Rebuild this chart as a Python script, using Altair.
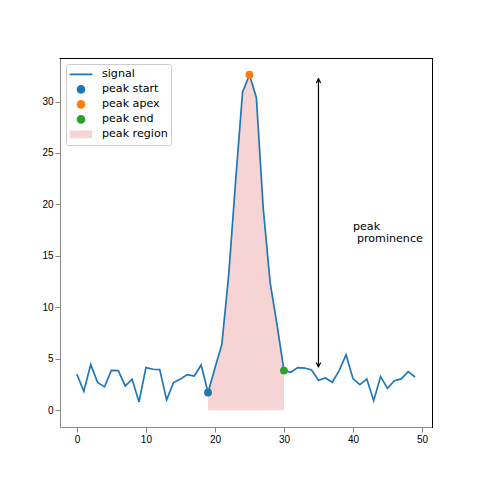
import altair as alt
import pandas as pd

# ---- data ----
x_vals = list(range(50))
signal = [3.50, 1.84, 4.43, 2.69, 2.27, 3.88, 3.85, 2.36, 3.01, 0.81,
          4.14, 3.98, 3.95, 1.00, 2.69, 3.04, 3.46, 3.33, 4.40, 1.72,
          4.10, 6.40, 13.2, 22.3, 30.9, 32.6, 30.4, 19.6, 12.4, 8.3,
          3.85, 3.69, 4.14, 4.10, 3.91, 2.91, 3.14, 2.72, 3.85, 5.40,
          3.07, 2.49, 3.04, 0.93, 3.27, 2.13, 2.87, 3.04, 3.75, 3.23]
peak_idx = [19, 25, 30]
peak_names = ["peak start", "peak apex", "peak end"]
peak_colors = ["#1f77b4", "#ff7f0e", "#2ca02c"]
legend_labels = ["signal", "peak start", "peak apex", "peak end", "peak region"]
legend_colors = ["#1f77b4", "#1f77b4", "#ff7f0e", "#2ca02c", "#f7d4d4"]
x_ticks = [0, 10, 20, 30, 40, 50]
y_ticks = [0, 5, 10, 15, 20, 25, 30]
arrow_x = 35
text_x = 40
text_y = 17.5
text_line1 = "peak"
text_line2 = "prominence"

FONT = "DejaVu Sans"
FS = 11.1
W, H = 372, 369

df = pd.DataFrame({"x": x_vals, "y": signal})
region = df[(df.x >= peak_idx[0]) & (df.x <= peak_idx[2])].copy()
region["y0"] = 0.0
peaks = pd.DataFrame({
    "x": peak_idx,
    "y": [signal[i] for i in peak_idx],
    "label": peak_names,
})
base = signal[peak_idx[2]]
apex = signal[peak_idx[1]]
shrink = 0.38
arrow = pd.DataFrame({"x": [arrow_x], "y": [base + shrink], "y2": [apex - shrink]})

xs = alt.Scale(domain=[-2.45, 51.45], nice=False, zero=False)
ys = alt.Scale(domain=[-1.63, 34.23], nice=False, zero=False)
xax = alt.Axis(values=x_ticks, title=None, grid=False, format="d")
yax = alt.Axis(values=y_ticks, title=None, grid=False, format="d")

X = alt.X("x:Q", scale=xs, axis=xax)
Y = alt.Y("y:Q", scale=ys, axis=yax)

area = alt.Chart(region).mark_area(color="#f7d4d4").encode(
    x=X, y=Y, y2="y0:Q")

line = alt.Chart(df).mark_line(color="#1f77b4", strokeWidth=1.7).encode(x=X, y=Y)

pts = alt.Chart(peaks).mark_point(filled=True, size=62, opacity=1).encode(
    x=X, y=Y,
    fill=alt.Fill("label:N", scale=alt.Scale(domain=peak_names, range=peak_colors), legend=None),
)

rule = alt.Chart(arrow).mark_rule(color="black", strokeWidth=1.2).encode(
    x=X, y=Y, y2="y2:Q")

up_head = alt.Chart(arrow).mark_point(
    shape="M-0.45,0.85L0,0L0.45,0.85", filled=False, stroke="black",
    strokeWidth=1.2, size=100, opacity=1).encode(x=X, y=alt.Y("y2:Q", scale=ys, axis=yax))
down_head = alt.Chart(arrow).mark_point(
    shape="M-0.45,-0.85L0,0L0.45,-0.85", filled=False, stroke="black",
    strokeWidth=1.2, size=100, opacity=1).encode(x=X, y=Y)

tdf = pd.DataFrame({"x": [text_x], "y": [text_y]})
txt1 = alt.Chart(tdf).mark_text(
    text=text_line1, align="left", baseline="alphabetic", font=FONT,
    fontSize=FS, color="black").encode(x=X, y=Y)
txt2 = alt.Chart(tdf).mark_text(
    text=text_line2, align="left", baseline="alphabetic", font=FONT,
    fontSize=FS, color="black", dx=4, dy=12).encode(x=X, y=Y)

# top and right spines (frame), pixel-aligned
frame_top = alt.Chart(tdf).mark_rule(color="black", strokeWidth=1).encode(
    x=alt.value(-0.5), x2=alt.value(W + 1), y=alt.value(0.5))
frame_right = alt.Chart(tdf).mark_rule(color="black", strokeWidth=1).encode(
    x=alt.value(W + 0.5), y=alt.value(0), y2=alt.value(H + 1))

leg_paths = [
    "M-0.95,-0.07H0.95V0.07H-0.95Z",
    "M-0.36,0A0.36,0.36,0,1,1,0.36,0A0.36,0.36,0,1,1,-0.36,0Z",
    "M-0.36,0A0.36,0.36,0,1,1,0.36,0A0.36,0.36,0,1,1,-0.36,0Z",
    "M-0.36,0A0.36,0.36,0,1,1,0.36,0A0.36,0.36,0,1,1,-0.36,0Z",
    "M-0.93,-0.32H0.93V0.32H-0.93Z",
]
leg_df = pd.DataFrame({"x": [0] * 5, "y": [signal[0]] * 5, "label": legend_labels})
legend_props = dict(
    title=None, orient="top-left", offset=6, symbolSize=576,
    symbolStrokeWidth=0, symbolOpacity=1, labelFont=FONT, labelFontSize=FS,
    labelColor="black", labelOffset=9, clipHeight=14.8, rowPadding=0,
    padding=3, fillColor="white", strokeColor="#cccccc", cornerRadius=2,
)
leg = alt.Chart(leg_df).mark_point(filled=True, opacity=0, size=1).encode(
    x=X, y=Y,
    color=alt.Color("label:N", scale=alt.Scale(domain=legend_labels, range=legend_colors),
                    legend=alt.Legend(**legend_props)),
    shape=alt.Shape("label:N", scale=alt.Scale(domain=legend_labels, range=leg_paths),
                    legend=alt.Legend(**legend_props)),
)

chart = alt.layer(area, line, pts, rule, up_head, down_head, txt1, txt2,
                  frame_top, frame_right, leg).properties(
    width=W, height=H,
    padding={"left": 60, "top": 58, "right": 48, "bottom": 53},
    autosize=alt.AutoSizeParams(type="none"),
).configure_view(
    stroke=None
).configure_axis(
    domainColor="black", domainWidth=1, tickColor="black", tickWidth=1,
    tickSize=3.9, labelFont=FONT, labelFontSize=FS, labelColor="black",
    labelPadding=3.5,
).configure(background="white")

chart.save("out.html", embed_options={"renderer": "svg", "actions": False})
